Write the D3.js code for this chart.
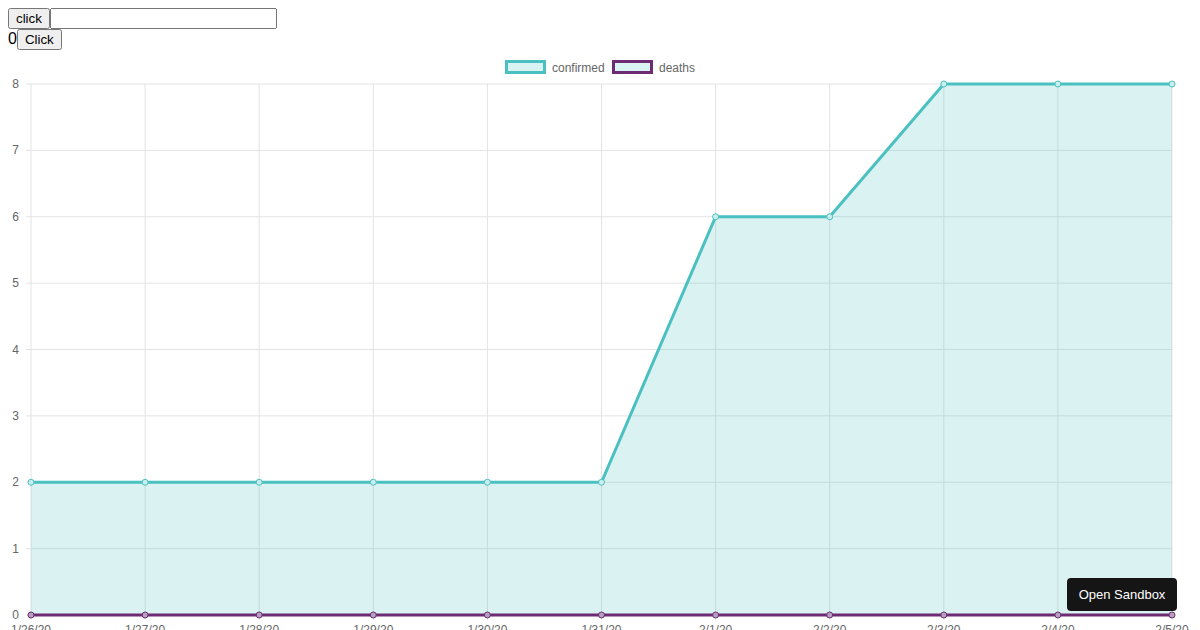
<!DOCTYPE html>
<html><head><meta charset="utf-8">
<script src="https://cdn.jsdelivr.net/npm/d3@7"></script>
<style>
body{margin:8px;font-family:"Liberation Sans",Arial,sans-serif;overflow:hidden;width:1184px;height:614px}
button{font-family:"Liberation Sans",Arial,sans-serif;font-size:13.3px}
#sb{position:absolute;left:1067px;top:578px;width:110px;height:33px;background:#151515;color:#fff;border:none;border-radius:4px;font-size:13px;font-family:"Liberation Sans",Arial,sans-serif;display:flex;align-items:center;justify-content:center}
svg{position:absolute;left:0;top:0}
</style></head><body>
<div><button>click</button><input type="text" style="width:219px"></div>
<div style="font-size:16px">0<button>Click</button></div>
<svg id="c" width="1200" height="630"></svg>
<div id="sb">Open Sandbox</div>
<script>
const dates=["1/26/20","1/27/20","1/28/20","1/29/20","1/30/20","1/31/20","2/1/20","2/2/20","2/3/20","2/4/20","2/5/20"];
const confirmed=[2,2,2,2,2,2,6,6,8,8,8];
const deaths=[0,0,0,0,0,0,0,0,0,0,0];
const yTicks=[0,1,2,3,4,5,6,7,8];
const svg=d3.select("#c");
const x=d3.scalePoint().domain(dates).range([31,1172]);
const y=d3.scaleLinear().domain([0,8]).range([615,84]);
const g=svg.append("g");
yTicks.forEach(t=>{g.append("line").attr("x1",26).attr("x2",1172).attr("y1",y(t)).attr("y2",y(t)).attr("stroke","#e3e3e3");
 g.append("text").attr("x",19).attr("y",y(t)+4).attr("text-anchor","end").attr("font-size",12).attr("fill","#666").text(t);});
dates.forEach(d=>{g.append("line").attr("x1",x(d)).attr("x2",x(d)).attr("y1",84).attr("y2",620).attr("stroke","#e3e3e3");
 g.append("text").attr("x",x(d)).attr("y",634).attr("text-anchor","middle").attr("font-size",12).attr("fill","#666").text(d);});
const teal="#4bc0c0",purple="#6c2b73",fill="rgba(75,192,192,0.2)";
svg.append("path").datum(confirmed).attr("fill",fill).attr("d",d3.area().x((d,i)=>x(dates[i])).y0(y(0)).y1(d=>y(d)));
svg.append("path").datum(confirmed).attr("fill","none").attr("stroke",teal).attr("stroke-width",3).attr("d",d3.line().x((d,i)=>x(dates[i])).y(d=>y(d)));
svg.selectAll(".pc").data(confirmed).enter().append("circle").attr("cx",(d,i)=>x(dates[i])).attr("cy",d=>y(d)).attr("r",3).attr("fill","#c9eeee").attr("stroke",teal);
svg.append("path").datum(deaths).attr("fill","none").attr("stroke",purple).attr("stroke-width",3).attr("d",d3.line().x((d,i)=>x(dates[i])).y(d=>y(d)));
svg.selectAll(".pd").data(deaths).enter().append("circle").attr("cx",(d,i)=>x(dates[i])).attr("cy",d=>y(d)).attr("r",3).attr("fill","#b6a0c0").attr("stroke",purple);
const leg=[["confirmed",teal,505],["deaths",purple,612]];
leg.forEach(([n,c,lx])=>{svg.append("rect").attr("x",lx+1.5).attr("y",61.5).attr("width",38).attr("height",11).attr("fill","#d9f2f2").attr("stroke",c).attr("stroke-width",3);
 svg.append("text").attr("x",lx+47).attr("y",72).attr("font-size",12).attr("fill","#666").text(n);});
</script></body></html>
